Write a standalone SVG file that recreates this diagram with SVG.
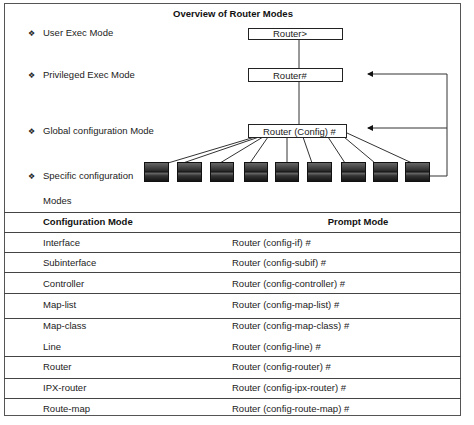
<svg xmlns="http://www.w3.org/2000/svg" width="474" height="425" viewBox="0 0 474 425">
<style>
text{font-family:"Liberation Sans",Arial,sans-serif;font-size:9.5px;fill:#222}
.b{font-weight:bold;fill:#111}
.bul{font-family:"DejaVu Sans",sans-serif;font-size:8px}
.box{fill:#fff;stroke:#222;stroke-width:1}
.ln{stroke:#333;stroke-width:1;fill:none}
.rule{stroke:#444;stroke-width:1}
.blk{fill:url(#g);stroke:#111;stroke-width:1}
</style>
<defs>
<linearGradient id="g" x1="0" y1="0" x2="0" y2="1">
<stop offset="0" stop-color="#6a6a6a"/>
<stop offset="0.42" stop-color="#2c2c2c"/>
<stop offset="0.5" stop-color="#151515"/>
<stop offset="0.56" stop-color="#6a6a6a"/>
<stop offset="0.7" stop-color="#333"/>
<stop offset="1" stop-color="#111"/>
</linearGradient>
<marker id="ah" markerWidth="6" markerHeight="6" refX="5" refY="3" orient="auto" markerUnits="userSpaceOnUse">
<path d="M0,0 L6,3 L0,6 z" fill="#111"/>
</marker>
</defs>
<rect width="474" height="425" fill="#fff"/>
<rect x="4.5" y="3.5" width="456" height="412" fill="none" stroke="#555" stroke-width="1"/>
<text class="b" x="233" y="17" text-anchor="middle">Overview of Router Modes</text>

<g id="labels">
<text class="bul" x="28" y="36">❖</text><text x="43" y="36">User Exec Mode</text>
<text class="bul" x="28" y="78">❖</text><text x="43" y="78">Privileged Exec Mode</text>
<text class="bul" x="28" y="134">❖</text><text x="43" y="134">Global configuration Mode</text>
<text class="bul" x="28" y="179">❖</text><text x="43" y="179">Specific configuration</text>
<text x="43" y="204">Modes</text>
</g>

<g id="connectors">
<line class="ln" x1="299" y1="39" x2="299" y2="68"/>
<line class="ln" x1="299" y1="82" x2="299" y2="124"/>
<polyline class="ln" points="429,176 447,176 447,74 368,74" marker-end="url(#ah)"/>
<line class="ln" x1="447" y1="128" x2="368" y2="128" marker-end="url(#ah)"/>
<line class="ln" x1="255" y1="137" x2="168" y2="163"/>
<line class="ln" x1="259" y1="137" x2="183" y2="163"/>
<line class="ln" x1="263" y1="137" x2="220" y2="163"/>
<line class="ln" x1="268" y1="137" x2="250" y2="163"/>
<line class="ln" x1="287" y1="137" x2="287" y2="163"/>
<line class="ln" x1="303" y1="137" x2="312" y2="163"/>
<line class="ln" x1="328" y1="137" x2="345" y2="163"/>
<line class="ln" x1="344" y1="137" x2="375" y2="163"/>
<line class="ln" x1="347" y1="133" x2="412" y2="163"/>
</g>

<g id="user-exec"><rect class="box" x="248.5" y="28.5" width="94" height="11"/><text x="273" y="37">Router&gt;</text></g>
<g id="priv-exec"><rect class="box" x="248.5" y="68.5" width="94" height="13"/><text x="273" y="79">Router#</text></g>
<g id="global-config"><rect class="box" x="248.5" y="124.5" width="98" height="13"/><text x="263" y="134.5">Router (Config) #</text></g>

<g id="specific">
<rect class="blk" x="144.5" y="162.5" width="24" height="19"/>
<rect class="blk" x="177.5" y="162.5" width="24" height="19"/>
<rect class="blk" x="210.5" y="162.5" width="23" height="19"/>
<rect class="blk" x="244.5" y="162.5" width="23" height="19"/>
<rect class="blk" x="275.5" y="162.5" width="23" height="19"/>
<rect class="blk" x="307.5" y="162.5" width="24" height="19"/>
<rect class="blk" x="341.5" y="162.5" width="24" height="19"/>
<rect class="blk" x="373.5" y="162.5" width="24" height="19"/>
<rect class="blk" x="405.5" y="162.5" width="24" height="19"/>
</g>

<g id="table">
<line class="rule" x1="4" y1="212.5" x2="461" y2="212.5"/>
<line class="rule" x1="4" y1="232.5" x2="461" y2="232.5"/>
<line class="rule" x1="4" y1="252.5" x2="461" y2="252.5"/>
<line class="rule" x1="4" y1="272.5" x2="461" y2="272.5"/>
<line class="rule" x1="4" y1="293.5" x2="461" y2="293.5"/>
<line class="rule" x1="4" y1="318.5" x2="461" y2="318.5"/>
<line class="rule" x1="4" y1="356.5" x2="461" y2="356.5"/>
<line class="rule" x1="4" y1="378.5" x2="461" y2="378.5"/>
<line class="rule" x1="4" y1="398.5" x2="461" y2="398.5"/>
<text class="b" x="43" y="225">Configuration Mode</text>
<text class="b" x="358" y="225" text-anchor="middle">Prompt Mode</text>
<text x="43" y="246">Interface</text><text x="232" y="246">Router (config-if) #</text>
<text x="43" y="266">Subinterface</text><text x="232" y="266">Router (config-subif) #</text>
<text x="43" y="287">Controller</text><text x="232" y="287">Router (config-controller)  #</text>
<text x="43" y="308">Map-list</text><text x="232" y="308">Router (config-map-list) #</text>
<text x="43" y="329">Map-class</text><text x="232" y="329">Router (config-map-class) #</text>
<text x="43" y="350">Line</text><text x="232" y="350">Router (config-line) #</text>
<text x="43" y="370">Router</text><text x="232" y="370">Router (config-router)  #</text>
<text x="43" y="391">IPX-router</text><text x="232" y="391">Router (config-ipx-router)  #</text>
<text x="43" y="412">Route-map</text><text x="232" y="412">Router (config-route-map)  #</text>
</g>
</svg>
